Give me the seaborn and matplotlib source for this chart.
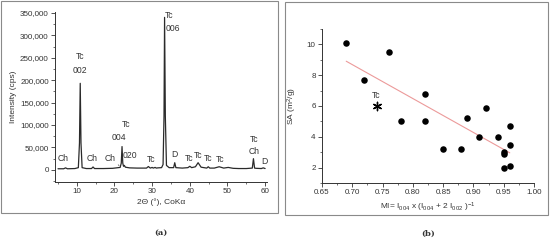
import matplotlib
matplotlib.use("Agg")
import matplotlib.pyplot as plt
import seaborn as sns
import pandas as pd
from matplotlib.ticker import MultipleLocator, StrMethodFormatter
from matplotlib.patches import Rectangle

# ---------------- data: panel (a) XRD pattern ----------------
two_theta = [5.0, 6.5, 7.0, 7.5, 9.5, 10.4, 10.7, 10.9, 11.1, 11.4,
             12.5, 13.9, 14.3, 14.7, 17.0, 19.5, 20.5, 21.5, 21.8, 22.0,
             22.2, 22.4, 22.6, 22.9, 24.0, 26.0, 28.5, 29.0, 29.5, 30.0,
             30.3, 30.8, 31.1, 31.5, 32.5, 32.9, 33.15, 33.3, 33.5, 33.8,
             34.5, 35.7, 36.0, 36.3, 38.0, 39.5, 40.0, 40.5, 41.5, 42.2,
             43.0, 44.5, 44.9, 45.3, 46.5, 47.8, 49.0, 50.2, 51.5, 53.0,
             55.0, 56.6, 56.9, 57.2, 57.6, 59.0, 59.5, 60.0]
intensity = [2500, 2500, 4500, 2500, 3000, 5000, 60000, 193000, 60000, 5000,
             3000, 3000, 6500, 3000, 3000, 3500, 4500, 5500, 15000, 52000,
             15000, 8000, 10000, 6000, 4500, 4000, 4000, 7500, 4000, 5500,
             4000, 5500, 4000, 4500, 5000, 12000, 120000, 340000, 120000, 10000,
             5000, 5000, 16000, 5000, 4000, 5000, 8000, 5000, 7000, 16000,
             6000, 4000, 7000, 4000, 4000, 7000, 4000, 5500, 3500, 3000,
             3000, 4000, 25000, 4000, 3500, 3000, 4500, 3000]

peak_labels = ["Tc", "002", "Tc", "006", "Tc", "004", "020",
               "Ch", "Ch", "Ch", "Tc", "D", "Tc", "Tc", "Tc", "Tc",
               "Tc", "Ch", "D"]
peak_label_x = [10.9, 10.9, 34.6, 35.4, 23.0, 21.2, 24.0,
                6.3, 14.0, 18.8, 29.6, 35.8, 39.8, 42.1, 44.9, 48.0,
                57.0, 57.0, 59.7]
peak_label_y = [252000, 222000, 345000, 316000, 102000, 73000, 33000,
                26000, 26000, 26000, 24000, 35000, 25000, 31000, 25000, 23000,
                68000, 42000, 18000]

# ---------------- data: panel (b) SA vs MI ----------------
mi = [0.69, 0.72, 0.76, 0.78, 0.82, 0.82, 0.85, 0.88, 0.89,
      0.91, 0.92, 0.94, 0.95, 0.95, 0.95, 0.96, 0.96, 0.96]
sa = [10.1, 7.7, 9.5, 5.0, 6.8, 5.05, 3.2, 3.2, 5.2,
      4.0, 5.9, 4.0, 3.0, 2.9, 2.0, 4.7, 3.5, 2.1]
tc_mi = [0.74]
tc_sa = [6.0]

xrd = pd.DataFrame({"two_theta": two_theta, "intensity": intensity})
sab = pd.DataFrame({"MI": mi, "SA": sa})

sns.set_style("ticks")
plt.rcParams["font.family"] = ["Liberation Sans", "DejaVu Sans"]
plt.rcParams["mathtext.fontset"] = "custom"
plt.rcParams["mathtext.rm"] = "Liberation Sans"
plt.rcParams["mathtext.it"] = "Liberation Sans:italic"

txt = "#333333"
fig = plt.figure(figsize=(5.5, 2.48), dpi=100)

# frames
fig.patches.append(Rectangle((1/550, 1 - 213/248), 277/550, 212/248,
                             transform=fig.transFigure, fill=False,
                             edgecolor="#8a8a8a", linewidth=0.8))
fig.patches.append(Rectangle((285/550, 1 - 215/248), 263/550, 213/248,
                             transform=fig.transFigure, fill=False,
                             edgecolor="#8a8a8a", linewidth=0.8))

# ---------- panel (a) ----------
ax1 = fig.add_axes([55/550, 66/248, 212/550, 170/248])
sns.lineplot(data=xrd, x="two_theta", y="intensity", ax=ax1,
             color="#2a2a2a", linewidth=0.9)
ax1.set_xlim(4.2, 60.5)
ax1.set_ylim(-27000, 352000)
ax1.xaxis.set_major_locator(MultipleLocator(10))
ax1.xaxis.set_minor_locator(MultipleLocator(5))
ax1.yaxis.set_major_locator(MultipleLocator(50000))
ax1.yaxis.set_minor_locator(MultipleLocator(25000))
ax1.yaxis.set_major_formatter(StrMethodFormatter("{x:,.0f}"))
ax1.set_xlabel("2Θ (°), CoKα", fontsize=6, color=txt, labelpad=2)
ax1.set_ylabel("Intensity (cps)", fontsize=6, color=txt, labelpad=2)
for lab, x, y in zip(peak_labels, peak_label_x, peak_label_y):
    ax1.text(x, y, lab, fontsize=6.2, color=txt, ha="center", va="center")
ax1.annotate("", xy=(21.8, 6000), xytext=(20.4, 15000),
             arrowprops=dict(arrowstyle="-", color=txt, lw=0.5))
ax1.text(0.5, -0.3, "(a)", transform=ax1.transAxes, fontsize=6,
         fontweight="bold", family="DejaVu Serif", ha="center", va="center",
         color=txt)

# ---------- panel (b) ----------
ax2 = fig.add_axes([322/550, 65/248, 212/550, 154/248])
sns.scatterplot(data=sab, x="MI", y="SA", ax=ax2, color="black", s=22,
                edgecolor="black", linewidth=0, zorder=3)
sns.regplot(data=sab, x="MI", y="SA", ax=ax2, scatter=False, ci=None,
            color="#ec9a9a", line_kws={"linewidth": 0.8})
ax2.scatter(tc_mi, tc_sa, marker=(6, 2, 0), s=36, color="black",
            linewidths=1.0, zorder=3)
ax2.text(tc_mi[0], tc_sa[0] + 0.65, "Tc", fontsize=6.2, color=txt,
         ha="center", va="center")
ax2.set_xlim(0.65, 1.00)
ax2.set_ylim(1, 11)
ax2.xaxis.set_major_locator(MultipleLocator(0.05))
ax2.xaxis.set_minor_locator(MultipleLocator(0.025))
ax2.yaxis.set_major_locator(MultipleLocator(2))
ax2.yaxis.set_minor_locator(MultipleLocator(1))
ax2.xaxis.set_major_formatter(StrMethodFormatter("{x:.2f}"))
ax2.set_yticks([2, 4, 6, 8, 10])
ax2.set_xlabel(r"MI= I$_{004}$ x (I$_{004}$ + 2 I$_{002}$ )$^{-1}$",
               fontsize=6, color=txt, labelpad=3)
ax2.set_ylabel(r"SA (m$^{2}$/g)", fontsize=6, color=txt, labelpad=6)
ax2.text(0.5, -0.33, "(b)", transform=ax2.transAxes, fontsize=6,
         fontweight="bold", family="DejaVu Serif", ha="center", va="center",
         color=txt)

for ax in (ax1, ax2):
    sns.despine(ax=ax)
    for s in ("left", "bottom"):
        ax.spines[s].set_linewidth(0.7)
        ax.spines[s].set_color("#333333")
    ax.tick_params(which="major", length=3, width=0.6, labelsize=5.8,
                   colors=txt, pad=1.5)
    ax.tick_params(which="minor", length=1.6, width=0.5, colors=txt)

fig.savefig("out.png", dpi=100)
